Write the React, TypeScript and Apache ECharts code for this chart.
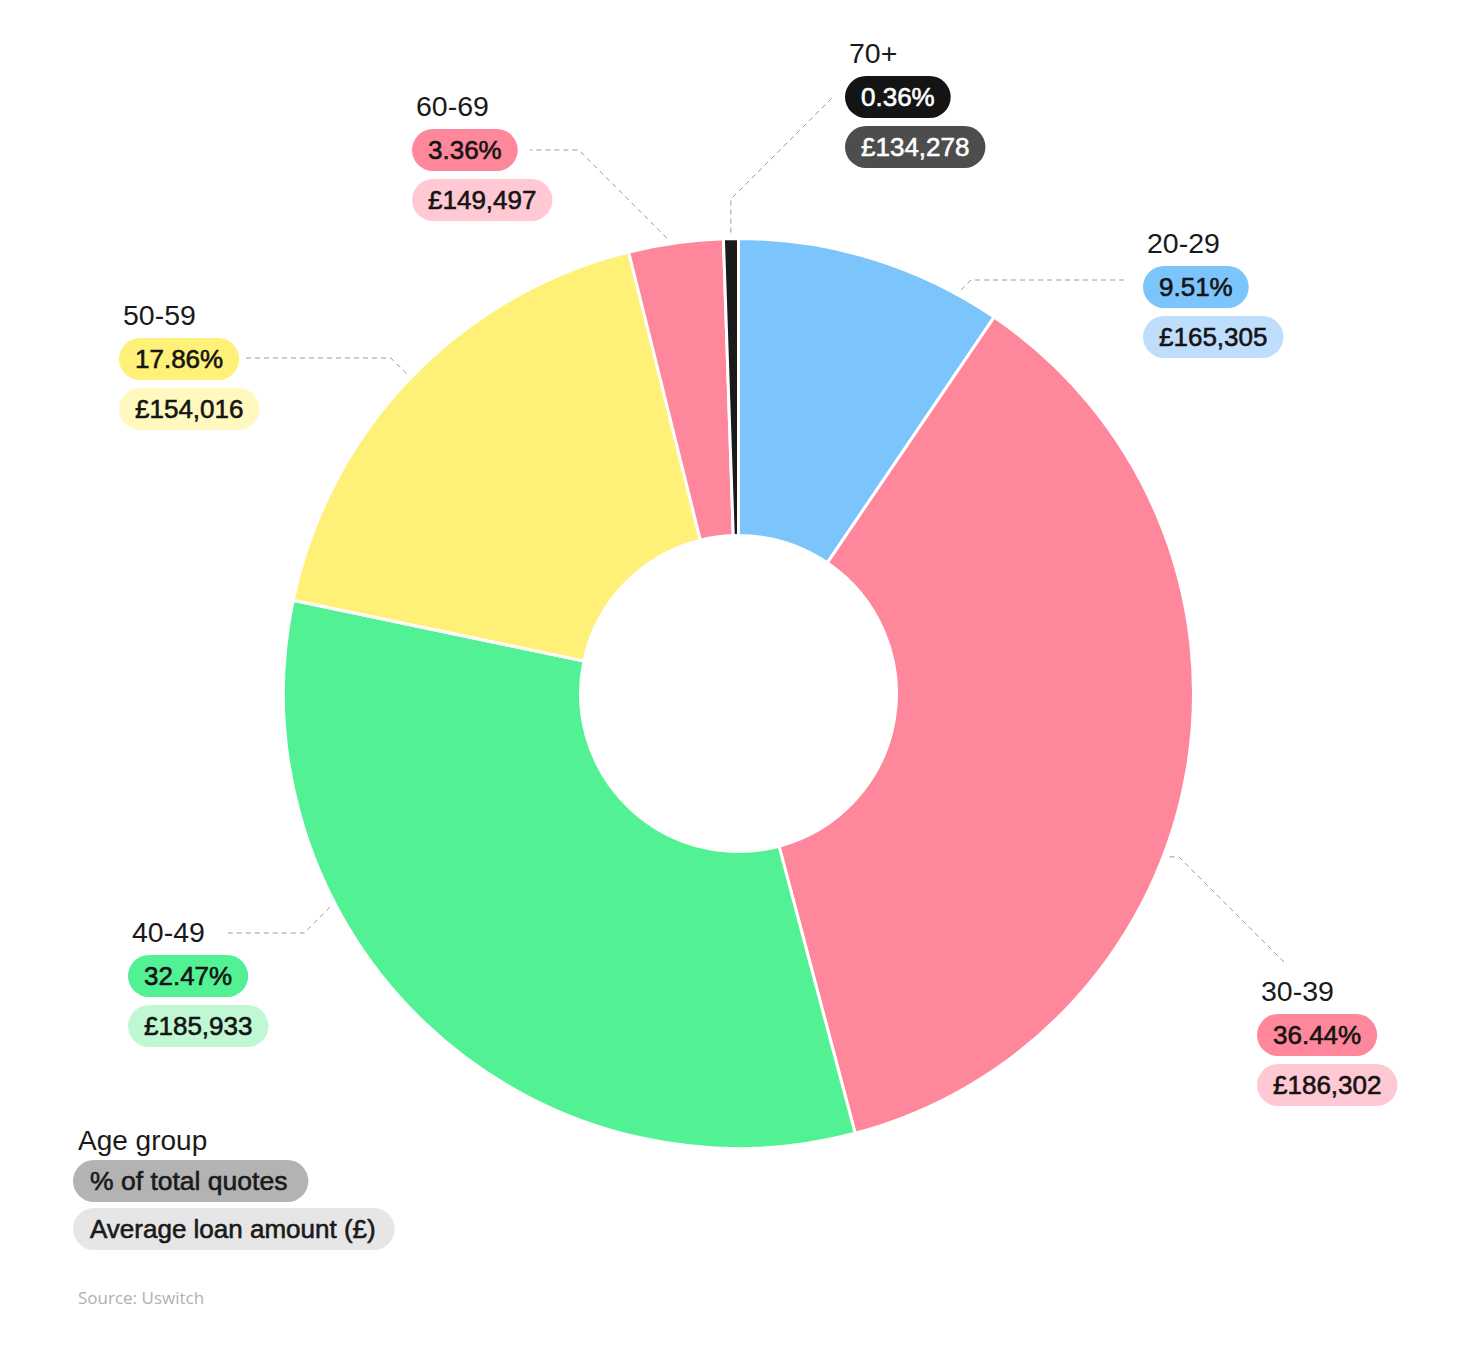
import React, { useEffect, useRef } from "react";
import * as echarts from "echarts";

// data
const ageGroups = ["20-29", "30-39", "40-49", "50-59", "60-69", "70+"];
const quoteShare = [9.51, 36.44, 32.47, 17.86, 3.36, 0.36];
const avgLoan = [165305, 186302, 185933, 154016, 149497, 134278];

// colours
const sliceColors = ["#7CC4FC", "#FF879B", "#52F294", "#FFF077", "#FF879B", "#1A1A1A"];
const pctPill = ["#7CC4FC", "#FF879B", "#52F294", "#FFF077", "#FF879B", "#141414"];
const amountPill = ["#BFDEFD", "#FFC9D4", "#BFF8D3", "#FFF8BF", "#FFC9D4", "#4D4D4D"];
const pillTextColor = ["#141414", "#141414", "#141414", "#141414", "#141414", "#FFFFFF"];

// layout
const FONT = "'Liberation Sans', Arial, Helvetica, sans-serif";
const CX = 738.5;
const CY = 693.5;
const R_IN = 158;
const R_OUT = 455;
// label block top-left (left edge of pills, top of name line)
const labelPos = [
  [1143, 224],
  [1257, 972],
  [128, 913],
  [119, 296],
  [412, 87],
  [845, 34],
];
// leader line end, relative to the label block
const lineEnd = [
  [-15, 56],
  [30, -7],
  [100, 20],
  [126, 62],
  [118, 63],
  [-12, 63],
];
// where the leader line leaves the ring, degrees away from the slice middle
const anchorShift = [11.8, 11.1, 18.9, 0, -1, 0];
const straightFirst = [false, true, false, false, false, true];

const pillBase = {
  fontSize: 26,
  fontFamily: FONT,
  height: 26,
  lineHeight: 50,
  padding: [8, 16, 8, 16],
  borderRadius: 21,
  textBorderWidth: 0.6,
};

const App = () => {
  const chartRef = useRef<HTMLDivElement>(null);

  useEffect(() => {
    const chart = echarts.init(chartRef.current!, null, { renderer: "svg" });

    const data = ageGroups.map((name, i) => ({
      name,
      value: quoteShare[i],
      itemStyle: { color: sliceColors[i] },
      label: {
        formatter: `{n|${name}}\n{p|${quoteShare[i].toFixed(2)}%}\n{a|£${avgLoan[i].toLocaleString("en-GB")}}`,
        rich: {
          n: { fontSize: 28.5, fontFamily: FONT, color: "#1A1A1A", lineHeight: 38, padding: [0, 0, 0, 4] },
          p: { ...pillBase, color: pillTextColor[i], textBorderColor: pillTextColor[i], backgroundColor: pctPill[i] },
          a: { ...pillBase, color: pillTextColor[i], textBorderColor: pillTextColor[i], backgroundColor: amountPill[i] },
        },
      },
    }));

    const option = {
      animation: false,
      backgroundColor: "#ffffff",
      series: [
        {
          type: "pie",
          center: [CX, CY],
          radius: [R_IN, R_OUT],
          startAngle: 90,
          clockwise: true,
          minAngle: 1.9,
          avoidLabelOverlap: false,
          silent: true,
          emphasis: { disabled: true },
          itemStyle: { borderColor: "#ffffff", borderWidth: 3 },
          label: {
            show: true,
            position: "outside",
            alignTo: "none",
            overflow: "none",
            align: "left",
          },
          labelLine: {
            show: true,
            length: 20,
            length2: 20,
            lineStyle: { color: "#9A9A9A", width: 1, type: [5, 4] },
          },
          labelLayout: (params: any) => {
            const i = params.dataIndex;
            const [lx, ly] = labelPos[i];
            const pts = params.labelLinePoints;
            let ang: number;
            if (pts && pts.length) {
              ang = Math.atan2(pts[0][1] - CY, pts[0][0] - CX);
            } else {
              const total = quoteShare.reduce((s, v) => s + v, 0);
              const before = quoteShare.slice(0, i).reduce((s, v) => s + v, 0);
              ang = -Math.PI / 2 + ((before + quoteShare[i] / 2) / total) * Math.PI * 2;
            }
            ang += (anchorShift[i] * Math.PI) / 180;
            const sx = CX + (R_OUT + 6) * Math.cos(ang);
            const sy = CY + (R_OUT + 6) * Math.sin(ang);
            const ex = lx + lineEnd[i][0];
            const ey = ly + lineEnd[i][1];
            const ddx = ex - sx;
            const ddy = ey - sy;
            const d = Math.min(Math.abs(ddx), Math.abs(ddy));
            const diag = [Math.sign(ddx) * d, Math.sign(ddy) * d];
            const mid = straightFirst[i] ? [ex - diag[0], ey - diag[1]] : [sx + diag[0], sy + diag[1]];
            return {
              x: lx,
              y: ly,
              align: "left",
              verticalAlign: "top",
              labelLinePoints: [[sx, sy], mid, [ex, ey]],
            };
          },
          data,
        },
      ],
      graphic: [
        {
          type: "text",
          x: 78,
          y: 1140,
          style: { text: "Age group", font: `28px ${FONT}`, fill: "#1A1A1A", verticalAlign: "middle", align: "left" },
        },
        {
          type: "text",
          x: 73,
          y: 1160,
          style: {
            text: "% of total quotes",
            font: `26.5px ${FONT}`,
            fill: "#1A1A1A",
            stroke: "#1A1A1A",
            lineWidth: 0.6,
            lineHeight: 26,
            backgroundColor: "#B3B3B3",
            padding: [8, 21, 8, 17],
            borderRadius: 21,
            verticalAlign: "top",
            align: "left",
          },
        },
        {
          type: "text",
          x: 73,
          y: 1208,
          style: {
            text: "Average loan amount (£)",
            font: `26px ${FONT}`,
            fill: "#1A1A1A",
            stroke: "#1A1A1A",
            lineWidth: 0.6,
            lineHeight: 26,
            backgroundColor: "#E6E6E6",
            padding: [8, 19, 8, 17],
            borderRadius: 21,
            verticalAlign: "top",
            align: "left",
          },
        },
        {
          type: "text",
          x: 78,
          y: 1297,
          style: {
            text: "Source: Uswitch",
            font: `17px 'Open Sans', ${FONT}`,
            fill: "#B0B0B0",
            verticalAlign: "middle",
            align: "left",
          },
        },
      ],
    };

    chart.setOption(option);
    return () => {
      chart.dispose();
    };
  }, []);

  return (
    <div
      ref={chartRef}
      style={{ position: "absolute", left: 0, top: 0, width: 1467, height: 1349 }}
    ></div>
  );
};

export default App;
